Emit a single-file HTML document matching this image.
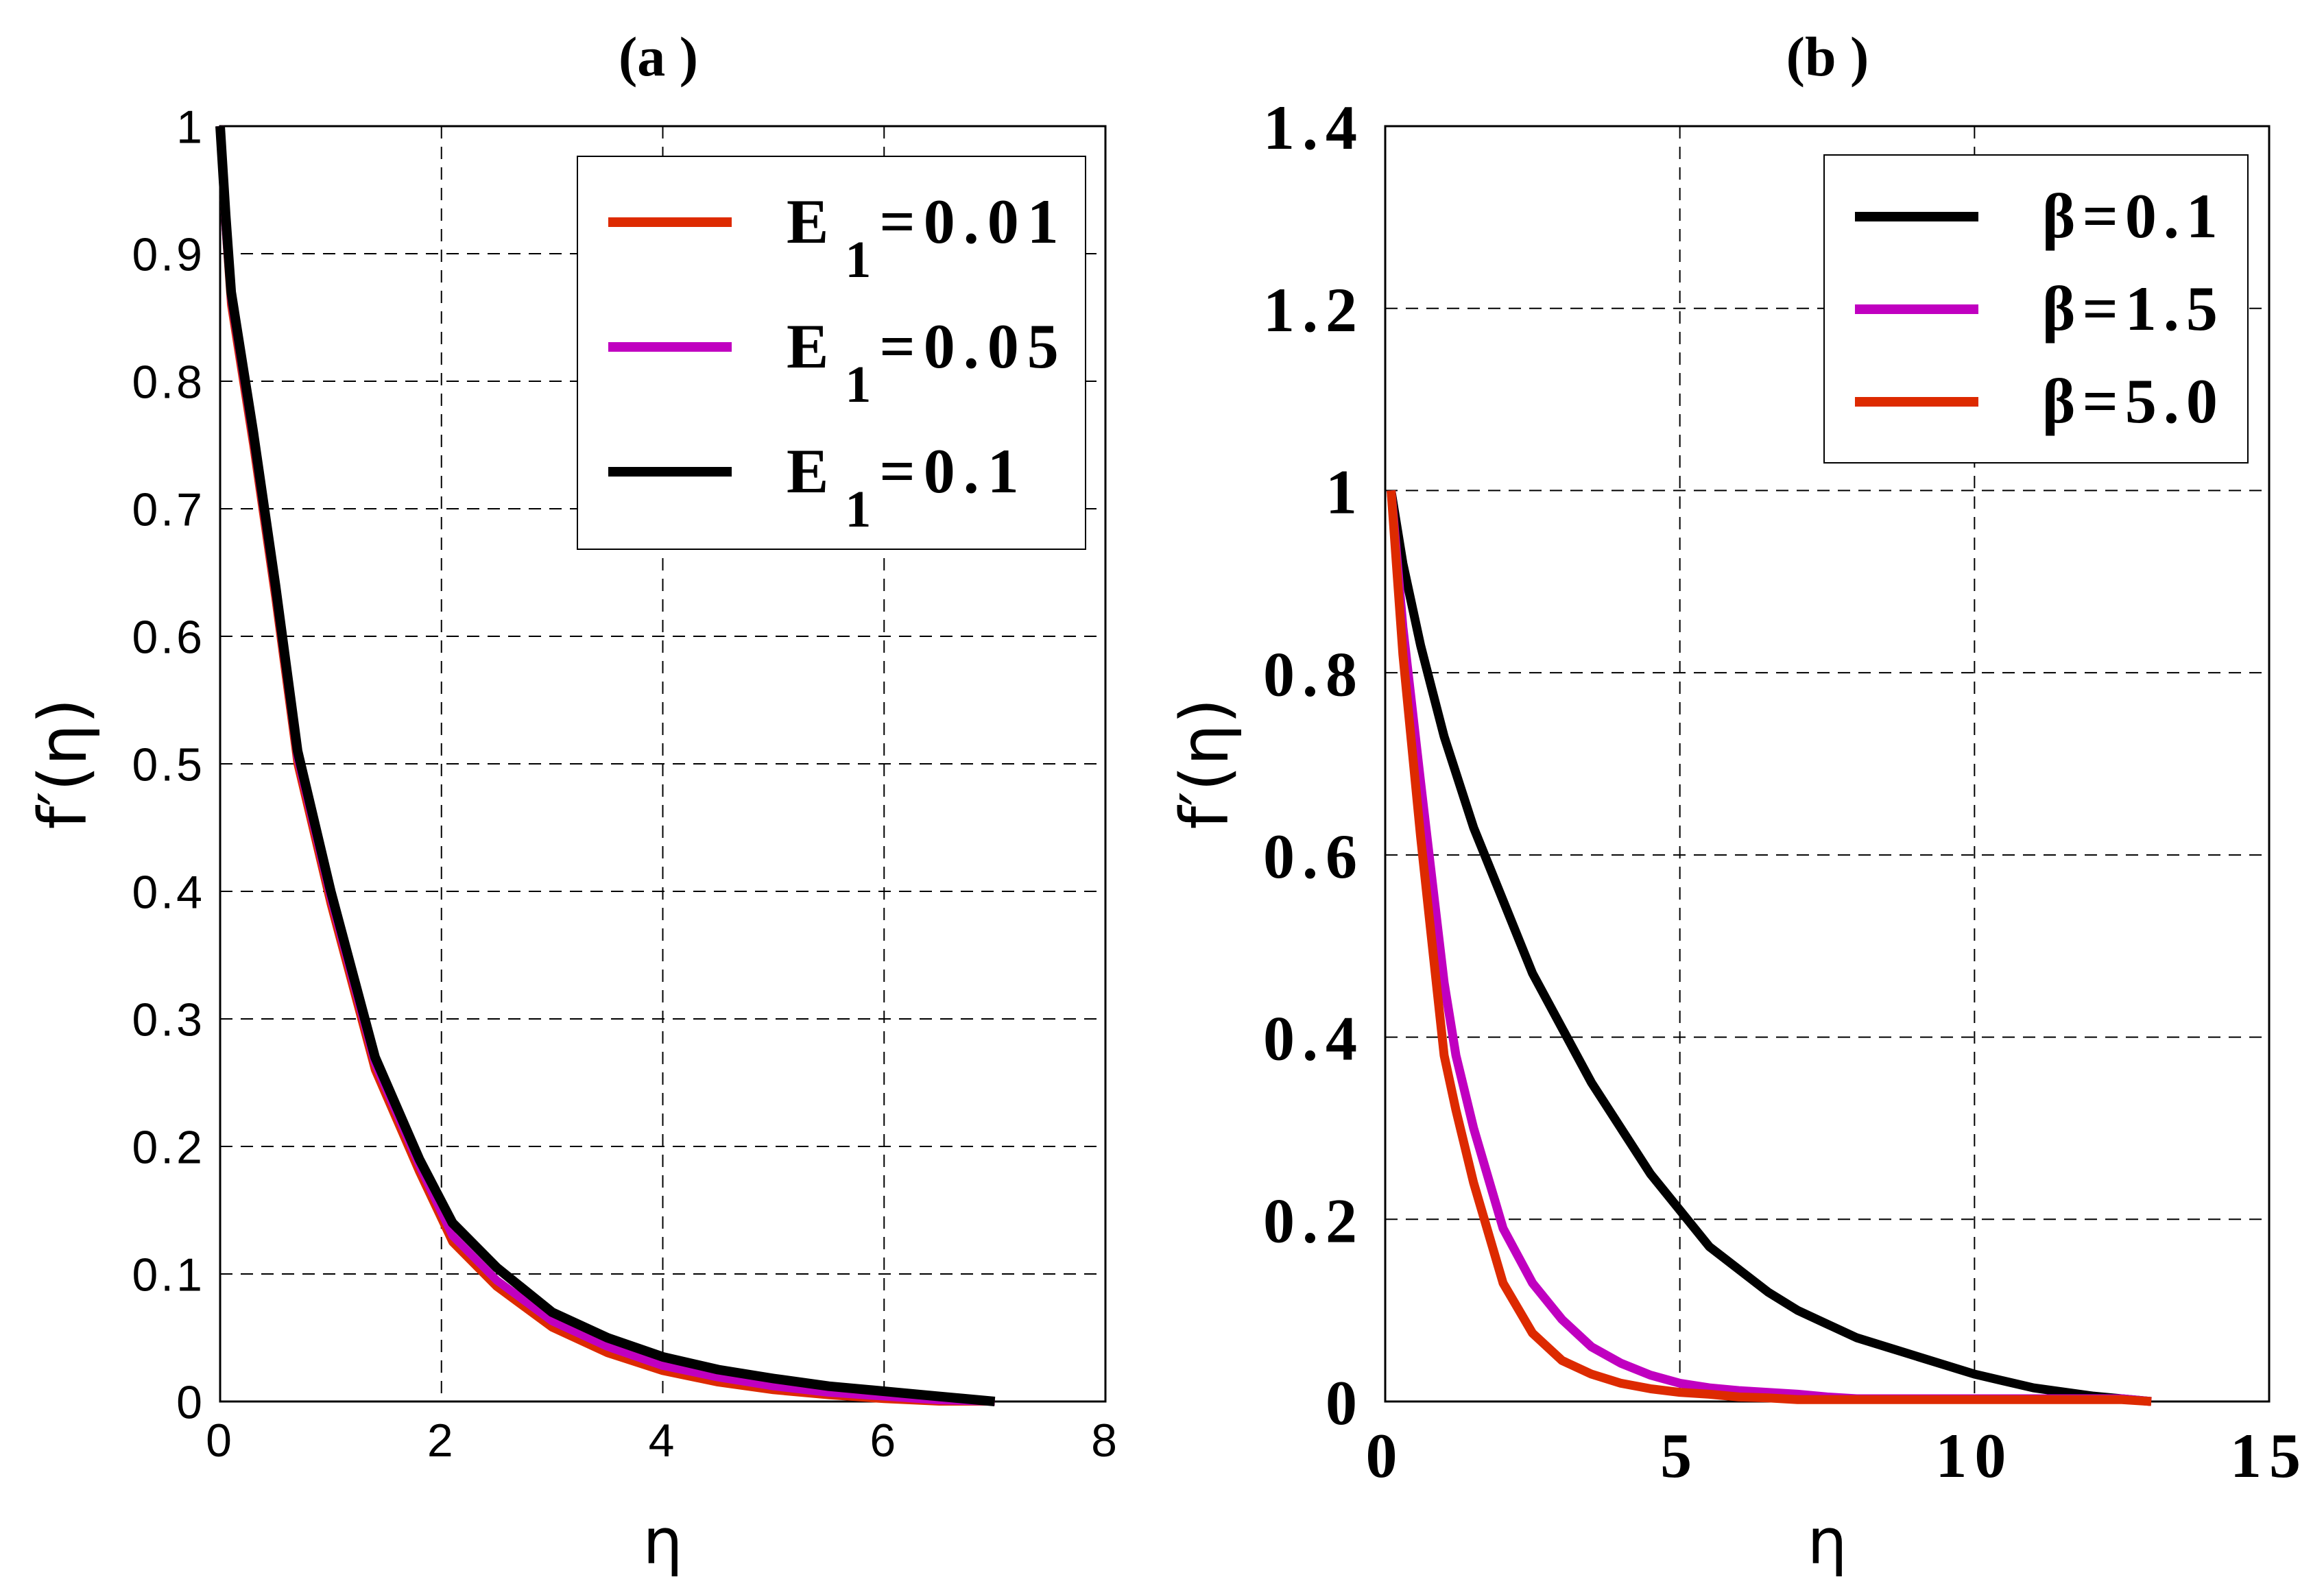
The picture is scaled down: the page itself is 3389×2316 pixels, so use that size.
<!DOCTYPE html>
<html><head><meta charset="utf-8">
<style>
html,body{margin:0;padding:0;background:#fff;}
svg{display:block;}
</style></head>
<body>
<svg id="fig" width="3389" height="2316" viewBox="0 0 3389 2316" xmlns="http://www.w3.org/2000/svg">
<rect width="3389" height="2316" fill="#fff"/>
<g id="pa"></g>
<g id="pb"></g>
</svg>
<script>
const NS="http://www.w3.org/2000/svg";
// Panel (a) data
const aXTicks=[0,2,4,6,8];
const aYTicks=[0,0.1,0.2,0.3,0.4,0.5,0.6,0.7,0.8,0.9,1];
const aYTickLabels=["0","0.1","0.2","0.3","0.4","0.5","0.6","0.7","0.8","0.9","1"];
const aEta=[0,0.05,0.1,0.3,0.5,0.7,1.0,1.4,1.8,2.1,2.5,3.0,3.5,4.0,4.5,5.0,5.5,6.0,6.5,7.0];
const aE001=[1,0.92,0.86,0.75,0.63,0.50,0.39,0.26,0.18,0.125,0.09,0.058,0.038,0.024,0.015,0.009,0.005,0.002,0.0,0.0];
const aE005=[1,0.92,0.865,0.755,0.635,0.505,0.395,0.265,0.185,0.13,0.095,0.063,0.043,0.028,0.019,0.012,0.007,0.004,0.001,0.0];
const aE01=[1,0.93,0.87,0.76,0.64,0.51,0.40,0.27,0.19,0.14,0.105,0.07,0.05,0.035,0.025,0.018,0.012,0.008,0.004,0.0];
// Panel (b) data
const bXTicks=[0,5,10,15];
const bXTickLabels=["0","5","10","15"];
const bYTicks=[0,0.2,0.4,0.6,0.8,1,1.2,1.4];
const bYTickLabels=["0","0.2","0.4","0.6","0.8","1","1.2","1.4"];
const bEta=[0.1,0.3,0.6,0.8,1.0,1.2,1.5,2.0,2.5,3.0,3.5,4.0,4.5,5.0,5.5,6.0,6.5,7.0,7.5,8.0,9.0,10.0,11.0,12.0,12.5,13.0];
const bBeta01=[1,0.92,0.83,0.78,0.73,0.69,0.63,0.55,0.47,0.41,0.35,0.30,0.25,0.21,0.17,0.145,0.12,0.10,0.085,0.07,0.05,0.03,0.015,0.006,0.003,0.0];
const bBeta15=[1,0.85,0.68,0.57,0.46,0.38,0.30,0.19,0.13,0.09,0.06,0.042,0.029,0.02,0.015,0.012,0.01,0.008,0.005,0.003,0.003,0.003,0.003,0.003,0.003,0.0];
const bBeta50=[1,0.82,0.62,0.50,0.38,0.32,0.24,0.13,0.075,0.045,0.03,0.02,0.014,0.01,0.008,0.005,0.004,0.002,0.002,0.002,0.002,0.002,0.002,0.002,0.002,0.0];

function el(parent,tag,attrs,name,inter,text){
  const e=document.createElementNS(NS,tag);
  for(const k in attrs)e.setAttribute(k,attrs[k]);
  
  
  if(text!==undefined)e.textContent=text;
  parent.appendChild(e);return e;
}
function panel(g,o){
  const sx=v=>o.L+(v-o.x0)/(o.x1-o.x0)*(o.R-o.L);
  const sy=v=>o.B-(v-o.y0)/(o.y1-o.y0)*(o.B-o.T);
  o.xt.forEach(v=>{ if(v>o.x0&&v<o.x1) el(g,'line',{x1:sx(v),x2:sx(v),y1:o.T,y2:o.B,stroke:'#000','stroke-width':2,'stroke-dasharray':'18,12'},'x-grid-line','false');});
  o.yt.forEach(v=>{ if(v>o.y0&&v<o.y1) el(g,'line',{x1:o.L,x2:o.R,y1:sy(v),y2:sy(v),stroke:'#000','stroke-width':2,'stroke-dasharray':'18,12'},'y-grid-line','false');});
  el(g,'rect',{x:o.L,y:o.T,width:o.R-o.L,height:o.B-o.T,fill:'none',stroke:'#000','stroke-width':3},'plot-frame','false');
  o.xt.forEach((v,i)=>{ el(g,'text',{x:sx(v),y:o.B+o.xly,'text-anchor':'middle','font-family':o.ff,'font-size':o.fs,'font-weight':o.fw,'letter-spacing':o.ls},'x-tick-label','false',o.xtl[i]);});
  o.yt.forEach((v,i)=>{ el(g,'text',{x:o.L-o.ylx,y:sy(v)+o.fs*0.36,'text-anchor':'end','font-family':o.ff,'font-size':o.fs,'font-weight':o.fw,'letter-spacing':o.ls},'y-tick-label','false',o.ytl[i]);});
  o.series.forEach(s=>{
    const d=o.xs.map((x,i)=>(i?'L':'M')+sx(x).toFixed(1)+' '+sy(s.v[i]).toFixed(1)).join(' ');
    el(g,'path',{d:d,fill:'none',stroke:s.c,'stroke-width':s.w,'stroke-linejoin':'round'},s.name,'false');
  });
  el(g,'text',{x:o.tx,y:110,'text-anchor':'middle','font-family':'Liberation Serif, serif','font-size':82,'font-weight':'bold'},'panel-title','false',o.title);
  el(g,'text',{x:(o.L+o.R)/2,y:2280,'text-anchor':'middle','font-family':'DejaVu Sans, sans-serif','font-size':92},'x-axis-title','false','η');
  el(g,'text',{x:0,y:0,'text-anchor':'middle','font-family':'DejaVu Sans, sans-serif','font-size':96,transform:`translate(${o.yax},${(o.T+o.B)/2}) rotate(-90)`},'y-axis-title','false','f′(η)');
  const lg=el(g,'g',{},'legend','false');
  el(lg,'rect',{x:o.lgx,y:o.lgy,width:o.lgw,height:o.lgh,fill:'#fff',stroke:'#000','stroke-width':2},'legend-box','false');
  o.leg.forEach((l,i)=>{
    const y=o.lgy+o.lg0+i*o.lgd;
    el(lg,'line',{x1:o.lgx+45,x2:o.lgx+225,y1:y,y2:y,stroke:l.c,'stroke-width':14},'legend-swatch','false');
    const t=el(lg,'text',{x:o.lgx+o.ltx,y:y+30,'font-family':'Liberation Serif, serif','font-size':92,'font-weight':'bold','letter-spacing':o.lls},'legend-entry','false');
    t.innerHTML=l.t;
  });
}
panel(document.getElementById('pa'),{L:321,R:1612,T:184,B:2044,x0:0,x1:8,y0:0,y1:1,
  xt:aXTicks,xtl:aXTicks.map(String),yt:aYTicks,ytl:aYTickLabels,xs:aEta,
  ff:'Liberation Sans, sans-serif',fs:68,fw:'normal',ls:4,xly:80,ylx:22,
  tx:960,title:'(a )',yax:125,
  series:[{v:aE001,c:'#dd2a00',w:12,name:'series-e1-0.01'},{v:aE005,c:'#c000c0',w:12,name:'series-e1-0.05'},{v:aE01,c:'#000',w:14,name:'series-e1-0.1'}],
  lgx:842,lgy:228,lgw:741,lgh:573,lg0:96,lgd:182,ltx:305,lls:12,
  leg:[{c:'#dd2a00',t:'E<tspan dx="12" dy="50" font-size="76">1</tspan><tspan dy="-50">=0.01</tspan>'},
       {c:'#c000c0',t:'E<tspan dx="12" dy="50" font-size="76">1</tspan><tspan dy="-50">=0.05</tspan>'},
       {c:'#000',t:'E<tspan dx="12" dy="50" font-size="76">1</tspan><tspan dy="-50">=0.1</tspan>'}]});
panel(document.getElementById('pb'),{L:2020,R:3309,T:184,B:2044,x0:0,x1:15,y0:0,y1:1.4,
  xt:bXTicks,xtl:bXTickLabels,yt:bYTicks,ytl:bYTickLabels,xs:bEta,
  ff:'Liberation Serif, serif',fs:92,fw:'bold',ls:11,xly:110,ylx:30,
  tx:2665,title:'(b )',yax:1790,
  series:[{v:bBeta01,c:'#000',w:13,name:'series-beta-0.1'},{v:bBeta15,c:'#c000c0',w:13,name:'series-beta-1.5'},{v:bBeta50,c:'#dd2a00',w:13,name:'series-beta-5.0'}],
  lgx:2660,lgy:226,lgw:618,lgh:449,lg0:90,lgd:135,ltx:318,lls:10,
  leg:[{c:'#000',t:'β=0.1'},{c:'#c000c0',t:'β=1.5'},{c:'#dd2a00',t:'β=5.0'}]});
</script>
</body></html>
